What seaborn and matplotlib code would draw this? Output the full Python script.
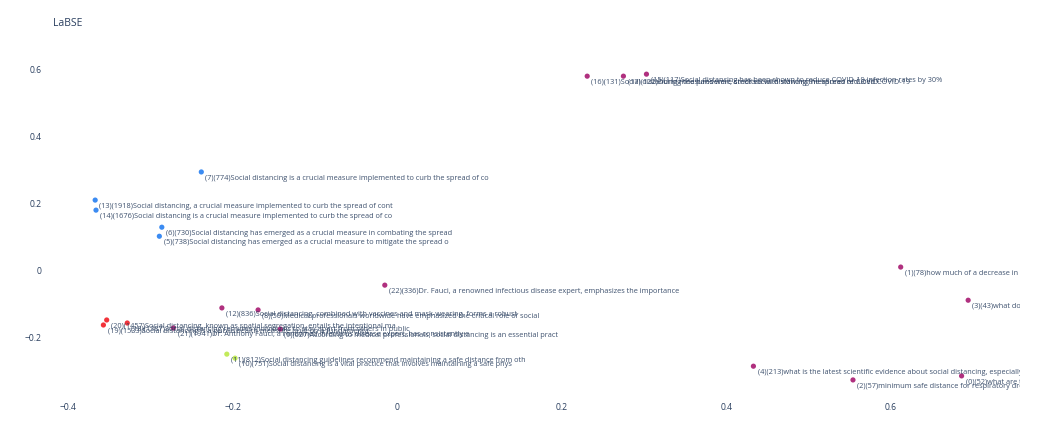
import pandas as pd
import seaborn as sns
import matplotlib.pyplot as plt

labels = [
    "(0)(52)what are the guidelines for social distancing in public places",
    "(1)(78)how much of a decrease in COVID-19 transmission does social distancing give",
    "(2)(57)minimum safe distance for respiratory droplets",
    "(3)(43)what does social distancing mean",
    "(4)(213)what is the latest scientific evidence about social distancing, especially indoors",
    "(5)(738)Social distancing has emerged as a crucial measure to mitigate the spread o",
    "(6)(730)Social distancing has emerged as a crucial measure in combating the spread",
    "(7)(774)Social distancing is a crucial measure implemented to curb the spread of co",
    "(8)(50)Medical professionals worldwide have emphasized the critical role of social",
    "(9)(627)According to medical professionals, social distancing is an essential pract",
    "(10)(751)Social distancing is a vital practice that involves maintaining a safe phys",
    "(11)(812)Social distancing guidelines recommend maintaining a safe distance from oth",
    "(12)(836)Social distancing, combined with vaccines and mask-wearing, forms a robust",
    "(13)(1918)Social distancing, a crucial measure implemented to curb the spread of cont",
    "(14)(1676)Social distancing is a crucial measure implemented to curb the spread of co",
    "(15)(117)Social distancing has been shown to reduce COVID-19 infection rates by 30%",
    "(16)(131)Social distancing measures were credited with slowing the spread of COVID",
    "(17)(122)During the pandemic, strict social distancing measures reduced COVID-19",
    "(18)(1387)Social distancing requires individuals to stay apart from others in public",
    "(19)(1533)Social distancing is a public health measure built on a fundamenta",
    "(20)(1457)Social distancing, known as spatial segregation, entails the intentional ma",
    "(21)(1941)Dr. Anthony Fauci, a renowned infectious disease expert, has consistently e",
    "(22)(336)Dr. Fauci, a renowned infectious disease expert, emphasizes the importance",
]
x = [0.686, 0.612, 0.554, 0.694, 0.433, -0.289, -0.286, -0.238, -0.169, -0.142,
     -0.197, -0.207, -0.213, -0.367, -0.366, 0.303, 0.231, 0.275, -0.328, -0.357,
     -0.353, -0.272, -0.015]
y = [-0.316, 0.009, -0.328, -0.090, -0.287, 0.101, 0.128, 0.293, -0.119, -0.176,
     -0.263, -0.251, -0.113, 0.209, 0.179, 0.585, 0.579, 0.579, -0.158, -0.164,
     -0.149, -0.173, -0.045]
cluster = ["q", "q", "q", "q", "q", "a", "a", "a", "q", "q",
           "g", "g", "q", "a", "a", "q", "q", "q", "r", "r",
           "r", "q", "q"]

df = pd.DataFrame({"x": x, "y": y, "cluster": cluster, "label": labels})
palette = {"a": "#3b8bf2", "q": "#b0307f", "r": "#f2333a", "g": "#c2ea5a"}

sns.set_style("white")
plt.rcParams["font.family"] = ["Open Sans", "DejaVu Sans"]
txt = "#2a3f5f"

fig = plt.figure(figsize=(10.64, 4.44), dpi=100)
ax = fig.add_axes([50 / 1064, 1 - 395 / 444, 970 / 1064, 355 / 444])
sns.scatterplot(data=df, x="x", y="y", hue="cluster", palette=palette, s=14,
                linewidth=0, legend=False, ax=ax)
for _, r in df.iterrows():
    ax.annotate(r["label"], (r["x"], r["y"]), xytext=(3, -2), textcoords="offset points",
                ha="left", va="top", fontsize=5.3, color=txt, alpha=0.9, clip_on=True,
                annotation_clip=False)

ax.set_xlim(-0.4219, 0.757)
ax.set_ylim(-0.373, 0.687)
ax.set_xticks([-0.4, -0.2, 0, 0.2, 0.4, 0.6])
ax.set_xticklabels(["\u22120.4", "\u22120.2", "0", "0.2", "0.4", "0.6"])
ax.set_yticks([-0.2, 0, 0.2, 0.4, 0.6])
ax.set_yticklabels(["\u22120.2", "0", "0.2", "0.4", "0.6"])
ax.tick_params(labelsize=6.2, colors=txt, length=0, pad=6)
ax.set_xlabel("")
ax.set_ylabel("")
sns.despine(ax=ax, left=True, bottom=True)
fig.text(53 / 1064, 1 - 24 / 444, "LaBSE", fontsize=7.5, color=txt, va="center", ha="left")

fig.savefig("out.png", dpi=100)
